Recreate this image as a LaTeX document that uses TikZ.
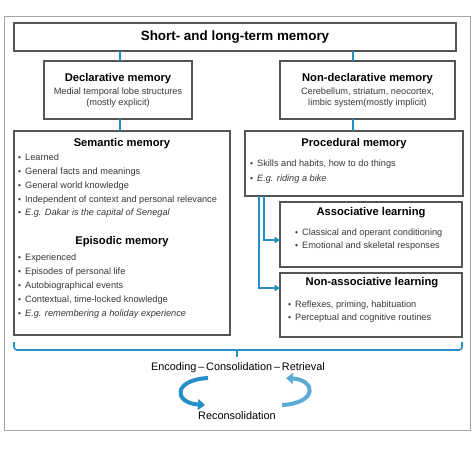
\documentclass[tikz,border=0pt]{standalone}
\usepackage{fontspec}
\setmainfont{Liberation Sans}
\usetikzlibrary{arrows.meta}
\usetikzlibrary{positioning}
\definecolor{linkblue}{RGB}{38,143,200}
\definecolor{boxgray}{RGB}{85,85,85}
\tikzset{
    font={\fontsize{9.2pt}{13.9pt}\selectfont},
    memory/.style={
           rectangle,
           draw=boxgray, line width=1.1pt,
           anchor=north west,
           inner sep=0pt, outer sep=0pt,
           text centered,
           },
    heading/.style={font={\fontsize{11.2pt}{13pt}\selectfont\bfseries}, inner sep=0pt},
    items/.style={align=left, anchor=north west, inner sep=0pt, text=black!78},
    link/.style={draw=linkblue, line width=1.3pt},
    linkarrow/.style={link, -{Triangle[length=5.5pt,width=6.5pt]}},
    cycle/.style={draw=linkblue, line width=4pt, -{Triangle[length=7pt,width=11pt]}},
}
\newcommand{\itm}{{\fontsize{8.5pt}{7pt}\selectfont\textbullet}\hspace{4pt}}

\begin{document}
\begin{tikzpicture}[x=1pt,y=-1pt]
\useasboundingbox (0,0) rectangle (474,448);

\node[memory, draw=gray!70, line width=0.8pt, minimum width=466pt, minimum height=414pt] (FRAME) at (4,16) {};

% top box
\node[memory, minimum width=442pt, minimum height=28pt, font={\fontsize{13.4pt}{15pt}\selectfont\bfseries}] (TOP) at (14,23) {Short- and long-term memory};

% declarative and non-declarative
\node[memory, minimum width=148pt, minimum height=58pt, align=center] (DECL) at (44,61) {%
    {\fontsize{11.2pt}{13pt}\selectfont\bfseries Declarative memory}\\[-1pt]
    \textcolor{black!78}{Medial temporal lobe structures}\\[-3pt]
    \textcolor{black!78}{(mostly explicit)}
};

\node[memory, minimum width=175pt, minimum height=58pt, align=center] (NONDECL) at (280,61) {%
    {\fontsize{11.2pt}{13pt}\selectfont\bfseries Non-declarative memory}\\[-1pt]
    \textcolor{black!78}{Cerebellum, striatum, neocortex,}\\[-3pt]
    \textcolor{black!78}{limbic system(mostly implicit)}
};

% semantic and episodic
\node[memory, minimum width=216pt, minimum height=204pt] (SEM) at (14,131) {};
\node[heading] (SEMHEAD) at (122,144) {Semantic memory};
\node[items] (SEMITEMS) at (18,153.5) {%
    \itm Learned\\
    \itm General facts and meanings\\
    \itm General world knowledge\\
    \itm Independent of context and personal relevance\\
    \itm\textit{E.g. Dakar is the capital of Senegal}
};
\node[heading] (EPIHEAD) at (122,242) {Episodic memory};
\node[items] (EPIITEMS) at (18,254) {%
    \itm Experienced\\
    \itm Episodes of personal life\\
    \itm Autobiographical events\\
    \itm Contextual, time-locked knowledge\\
    \itm\textit{E.g. remembering a holiday experience}
};

% procedural
\node[memory, minimum width=218pt, minimum height=65pt] (PROC) at (245,131) {};
\node[heading] (PROCHEAD) at (354,144) {Procedural memory};
\node[items] (PROCITEMS) at (250,160) {%
    \itm Skills and habits, how to do things\\[1pt]
    \itm\textit{E.g. riding a bike}
};

\node[memory, minimum width=182pt, minimum height=65pt] (ASSOC) at (280,202) {};
\node[heading] (ASSOCHEAD) at (371,213) {Associative learning};
\node[items] (ASSOCITEMS) at (295,229) {%
    \itm Classical and operant conditioning\\[-0.8pt]
    \itm Emotional and skeletal responses
};

\node[memory, minimum width=182pt, minimum height=64pt] (NONASSOC) at (280,273) {};
\node[heading] (NONASSOCHEAD) at (372,283) {Non-associative learning};
\node[items] (NONASSOCITEMS) at (288,301) {%
    \itm Reflexes, priming, habituation\\[-0.8pt]
    \itm Perceptual and cognitive routines
};

% processes
\node[font={\fontsize{10.9pt}{13pt}\selectfont}, inner sep=0pt] (ECR) at (238,368) {Encoding\,--\,Consolidation\,--\,Retrieval};
\node[font={\fontsize{10.9pt}{13pt}\selectfont}, inner sep=0pt] (RECON) at (237,416) {Reconsolidation};

\coordinate (DL) at ([xshift=2pt]DECL.north);
\coordinate (ND) at ([xshift=-14.5pt]NONDECL.north);
\coordinate (PA) at ([xshift=19pt]PROC.south west);
\coordinate (PN) at ([xshift=14pt]PROC.south west);

\draw[link] (DL |- TOP.south) -- (DL);
\draw[link] (ND |- TOP.south) -- (ND);
\draw[link] (DL |- DECL.south) -- (DL |- SEM.north);
\draw[link] (ND |- NONDECL.south) -- (ND |- PROC.north);
\draw[linkarrow] (PA) |- ([yshift=-5.5pt]ASSOC.west);
\draw[linkarrow] (PN) |- ([yshift=17pt]NONASSOC.west);

% bracket
\coordinate (BRL) at (14,342);
\coordinate (BRR) at (462,342);
\coordinate (BRB) at (237,350);
\draw[link, line width=1.6pt, rounded corners=3pt] (BRL) -- (BRL |- BRB) -- (BRR |- BRB) -- (BRR);
\draw[link, line width=1.6pt] (BRB) -- ([yshift=-7pt]BRB);

% cycle arrows
\coordinate (LA) at (208,378);
\coordinate (LB) at (205,405);
\coordinate (RA) at (282,405);
\coordinate (RB) at (286,378);
\draw[cycle] (LA) .. controls (172,380) and (174,403) .. (LB);
\draw[cycle, draw=linkblue!75] (RA) .. controls (318,403) and (316,380) .. (RB);

\end{tikzpicture}
\end{document}
